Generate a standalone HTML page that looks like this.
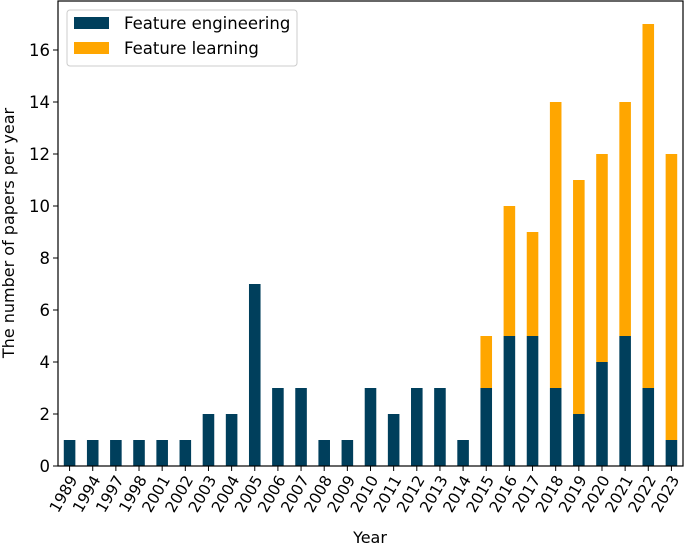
<!DOCTYPE html>
<html><head><meta charset="utf-8"><style>
body{margin:0;background:#fff}
svg{display:block;font-family:"DejaVu Sans","Liberation Sans",sans-serif}
</style></head><body>
<svg id="chart" width="685" height="546" viewBox="0 0 685 546" xmlns="http://www.w3.org/2000/svg">
<g id="bars"></g>
<g id="axes"></g>
<rect x="58" y="1" width="625" height="465" fill="none" stroke="#000" stroke-width="1.2"/>
<text transform="translate(14,233) rotate(-90)" text-anchor="middle" font-size="16">The number of papers per year</text>
<text x="370" y="543" text-anchor="middle" font-size="16">Year</text>
<g>
<rect x="67" y="10" width="230" height="56" rx="3" fill="#fff" stroke="#ccc"/>
<rect x="74" y="17" width="35" height="12" fill="#003f5c"/>
<text x="124" y="29" font-size="16.5">Feature engineering</text>
<rect x="74" y="42" width="35" height="12" fill="#ffa600"/>
<text x="124" y="54" font-size="16.5">Feature learning</text>
</g>
</svg>
<script>
const years=["1989","1994","1997","1998","2001","2002","2003","2004","2005","2006","2007","2008","2009","2010","2011","2012","2013","2014","2015","2016","2017","2018","2019","2020","2021","2022","2023"];
const engineering=[1,1,1,1,1,1,2,2,7,3,3,1,1,3,2,3,3,1,3,5,5,3,2,4,5,3,1];
const learning=[0,0,0,0,0,0,0,0,0,0,0,0,0,0,0,0,0,0,2,5,4,11,9,8,9,14,11];
const yTicks=[0,2,4,6,8,10,12,14,16];
const NS="http://www.w3.org/2000/svg";
const L=58,R=683,B=466;
const step=(R-L)/years.length;
const x=i=>L+(i+0.5)*step;
const y=v=>B-v*26;
const bars=document.getElementById('bars'),axes=document.getElementById('axes');
function mk(tag,attrs,parent){const e=document.createElementNS(NS,tag);for(const k in attrs)e.setAttribute(k,attrs[k]);parent.appendChild(e);return e;}
const bw=step*0.5;
years.forEach((yr,i)=>{
  const a=mk('rect',{x:x(i)-bw/2,y:y(engineering[i]),width:bw,height:y(0)-y(engineering[i]),fill:'#003f5c'},bars);
  
  
  if(learning[i]>0){
    const b=mk('rect',{x:x(i)-bw/2,y:y(engineering[i]+learning[i]),width:bw,height:y(engineering[i])-y(engineering[i]+learning[i]),fill:'#ffa600'},bars);
    
    
  }
  const t=mk('line',{x1:x(i),x2:x(i),y1:B,y2:B+5,stroke:'#000'},axes);
  
  
  const lb=mk('text',{transform:`translate(${x(i)+4},${B+11}) rotate(-60)`,'text-anchor':'end','dominant-baseline':'central','font-size':'15.5'},axes);
  lb.textContent=yr;
  
  
});
yTicks.forEach(v=>{
  const t=mk('line',{x1:L-5,x2:L,y1:y(v),y2:y(v),stroke:'#000'},axes);
  
  
  const lb=mk('text',{x:L-8,y:y(v)+6,'text-anchor':'end','font-size':'16.5'},axes);
  lb.textContent=v;
  
  
});
</script>
</body></html>
